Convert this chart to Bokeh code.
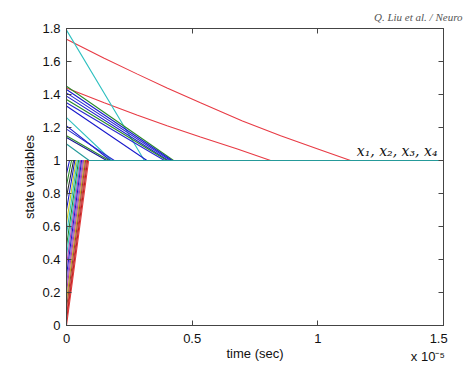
from bokeh.plotting import figure
from bokeh.models import (ColumnDataSource, Range1d, LinearAxis, FixedTicker,
                          CustomJSTickFormatter, Label, Title)
from bokeh.embed import file_html
from bokeh.resources import INLINE

# ---- data (time in units of 1e-5 s) ----
x_ticks = [0, 0.5, 1, 1.5]
y_ticks = [0, 0.2, 0.4, 0.6, 0.8, 1.0, 1.2, 1.4, 1.6, 1.8]
x_scale_note = "x 10\u207b\u2075"
t_end_axis = 1.5

# states starting below 1 (start value, time reaching 1, colour)
rise_start = [0.92, 0.85, 0.78, 0.70, 0.62, 0.55, 0.48, 0.42, 0.36, 0.30, 0.25, 0.20, 0.15, 0.10, 0.06, 0.03, 0.0]
rise_end = [0.012, 0.02, 0.028, 0.033, 0.038, 0.043, 0.048, 0.052, 0.056, 0.060, 0.064, 0.068, 0.072, 0.076, 0.080, 0.084, 0.088]
rise_color = ["#1a1acc", "#2a8a2a", "#303030", "#1a1acc", "#c8c820", "#30c0c0", "#2a8a2a",
              "#30c0c0", "#b040b0", "#1a1acc", "#8a60d0", "#b040b0", "#c8a020", "#8a5030",
              "#e03838", "#b02020", "#e03838"]

# states starting above 1, straight decay (start value, time reaching 1, colour)
fall_start = [1.79, 1.45, 1.43, 1.41, 1.39, 1.37, 1.35, 1.33, 1.26, 1.21, 1.19, 1.15, 1.14, 1.10]
fall_end = [0.31, 0.426, 0.42, 0.414, 0.405, 0.40, 0.39, 0.32, 0.18, 0.175, 0.19, 0.17, 0.16, 0.09]
fall_color = ["#30c0c0", "#2a8a2a", "#1a1acc", "#2a2ad0", "#1a1acc", "#2a8a2a", "#2a2ad0",
              "#1a1acc", "#30c0c0", "#1a1acc", "#2a2ad0", "#2a8a2a", "#1a1a90", "#259a9a"]

# curved (slow) states, read point by point
red1_t = [0, 0.15, 0.28, 0.40, 0.533, 0.70, 0.852, 1.0, 1.13]
red1_y = [1.735, 1.62, 1.525, 1.44, 1.35, 1.24, 1.15, 1.07, 1.0]
red2_t = [0, 0.15, 0.28, 0.40, 0.533, 0.68, 0.812]
red2_y = [1.44, 1.35, 1.276, 1.21, 1.142, 1.07, 1.0]
red_color = "#e83a44"

# ---- build line table ----
xs, ys, cs = [], [], []
for s, e, c in zip(rise_start, rise_end, rise_color):
    xs.append([0, e, t_end_axis]); ys.append([s, 1, 1]); cs.append(c)
for tt, yy in ((red1_t, red1_y), (red2_t, red2_y)):
    xs.append(tt + [t_end_axis]); ys.append(yy + [1]); cs.append(red_color)
for s, e, c in zip(fall_start, fall_end, fall_color):
    xs.append([0, e, t_end_axis]); ys.append([s, 1, 1]); cs.append(c)

src = ColumnDataSource(dict(xs=xs, ys=ys, color=cs))

W, H = 466, 374
p = figure(width=W, height=H, output_backend="svg", toolbar_location=None,
           x_range=Range1d(0, 1.5), y_range=Range1d(0, 1.8),
           min_border_left=66, min_border_right=23, min_border_top=28, min_border_bottom=49)
p.grid.visible = False
p.outline_line_color = "#444444"
p.background_fill_color = "white"
p.border_fill_color = "white"

p.multi_line(xs="xs", ys="ys", line_color="color", line_width=1.1, source=src)

fmt = CustomJSTickFormatter(code="return (Math.round(tick*10)/10).toString();")
xfmt = CustomJSTickFormatter(args=dict(note=x_scale_note, last=x_ticks[-1]), code="""
const s = (Math.round(tick*10)/10).toString();
if (Math.abs(tick - last) < 1e-9) { return s + "\\n" + note + "\\u00a0".repeat(6); }
return s;
""")
blank = CustomJSTickFormatter(code="return '';")
font = "Liberation Sans"

def style(ax, ticks, labels=True):
    ax.ticker = FixedTicker(ticks=ticks)
    ax.major_tick_in = 5
    ax.major_tick_out = 0
    ax.minor_tick_line_color = None
    ax.axis_line_color = "#444444"
    ax.major_tick_line_color = "#444444"
    ax.major_label_text_font = font
    ax.major_label_text_font_size = "13px"
    ax.major_label_text_color = "#111111"
    ax.axis_label_text_font = font
    ax.axis_label_text_font_size = "13px"
    ax.axis_label_text_font_style = "normal"
    ax.axis_label_text_color = "#111111"
    ax.formatter = fmt if labels else blank
    if not labels:
        ax.major_label_standoff = 0

style(p.xaxis[0], x_ticks)
style(p.yaxis[0], y_ticks)
p.xaxis[0].formatter = xfmt
p.xaxis[0].axis_label = "time (sec)"
p.xaxis[0].axis_label_standoff = -21
p.xaxis[0].major_label_standoff = 5
p.yaxis[0].axis_label = "state variables"
p.yaxis[0].axis_label_standoff = 2
p.yaxis[0].major_label_standoff = 6

ax_r = LinearAxis(); style(ax_r, y_ticks, labels=False); p.add_layout(ax_r, "right")
ax_t = LinearAxis(); style(ax_t, x_ticks, labels=False); p.add_layout(ax_t, "above")

# header fragment (page header above the chart)
p.add_layout(Title(text="Q. Liu et al. / Neuro", align="right", offset=-19, standoff=12,
                   text_font="Liberation Serif", text_font_style="italic",
                   text_font_size="11px", text_color="#555555"), "above")

# curve annotation
p.add_layout(Label(x=1.155, y=1.012, text="x\u2081, x\u2082, x\u2083, x\u2084",
                   text_font="DejaVu Serif", text_font_style="italic",
                   text_font_size="14px", text_color="#111111", text_baseline="bottom"))

open("out.html", "w").write(file_html(p, INLINE))
